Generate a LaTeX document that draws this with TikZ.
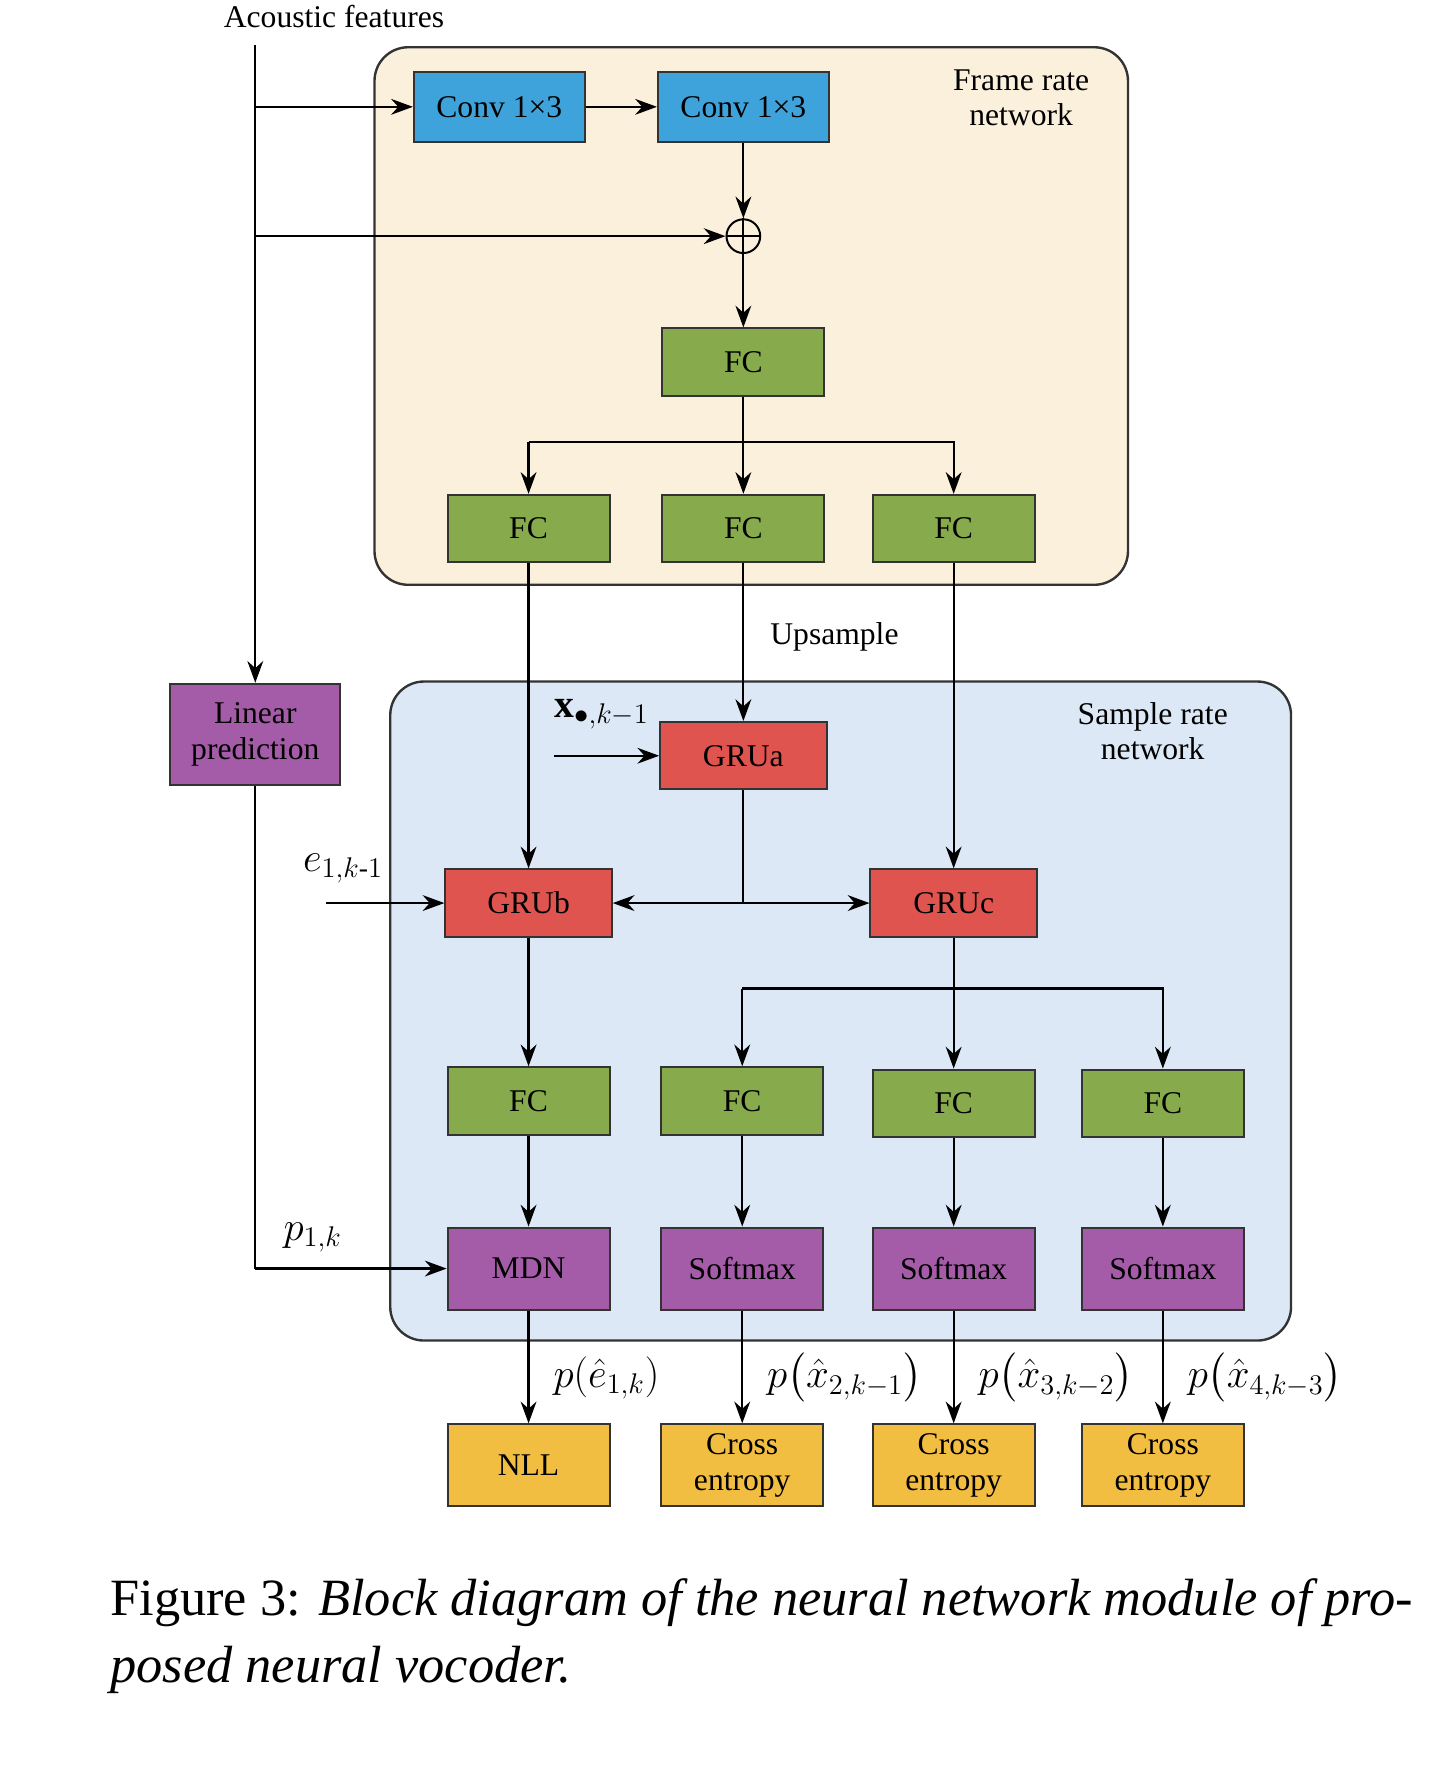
\documentclass[tikz,border=0pt]{standalone}
\usepackage{fontspec}
\setmainfont{Liberation Serif}
\usepackage{amsmath}
\usetikzlibrary{arrows.meta}
\definecolor{cblue}{HTML}{3FA3DB}
\definecolor{cgreen}{HTML}{86AA4C}
\definecolor{cred}{HTML}{E05450}
\definecolor{cpurple}{HTML}{A45CA8}
\definecolor{cyellow}{HTML}{F2BE42}
\definecolor{bgframe}{HTML}{FBF0DC}
\definecolor{bgsample}{HTML}{DCE8F5}
\begin{document}
\begin{tikzpicture}[x=0.02cm,y=-0.02cm,
  box/.style={draw=black!80,line width=1pt,minimum width=2.88cm,minimum height=1.2cm,inner sep=0pt,font=\fontsize{16}{18}\selectfont,align=center},
  conv/.style={box,fill=cblue,minimum width=3.04cm,minimum height=1.24cm},
  fc/.style={box,fill=cgreen},
  gru/.style={box,fill=cred,minimum width=2.96cm},
  pur/.style={box,fill=cpurple,minimum height=1.46cm},
  yel/.style={box,fill=cyellow,minimum height=1.46cm},
  bg/.style={draw=black!80,line width=1.2pt,rounded corners=0.6cm},
  arr/.style={-{Stealth[length=11pt,width=8pt]},line width=1.1pt},
  ln/.style={line width=1.1pt},
  lab/.style={font=\fontsize{16}{18}\selectfont},
  mlab/.style={font=\fontsize{20}{22}\selectfont}]
\useasboundingbox (0,0) rectangle (1280,1589);
\fill[white] (0,0) rectangle (1280,1589);
\draw[bg,fill=bgframe] (333,42) rectangle (1003,520);
\draw[bg,fill=bgsample] (347,606) rectangle (1148,1192);
\node[lab,align=center] (frt) at (908,87) {Frame rate\\network};
\node[lab,align=center] (srt) at (1025,650) {Sample rate\\network};
\node[lab] (ac) at (297,15) {Acoustic features};
\node[conv] (c1) at (444,95) {Conv 1×3};
\node[conv] (c2) at (661,95) {Conv 1×3};
\node[draw,circle,line width=1pt,minimum size=0.6cm,inner sep=0pt] (op) at (661,210) {};
\draw[line width=1pt] (op.north)--(op.south) (op.west)--(op.east);
\node[fc] (fc0) at (661,322) {FC};
\node[fc] (fa) at (470,470) {FC};
\node[fc] (fb) at (661,470) {FC};
\node[fc] (fcc) at (848,470) {FC};
\node[pur,minimum width=3.02cm,minimum height=1.8cm] (lp) at (227,653) {Linear\\prediction};
\node[gru] (ga) at (661,672) {GRUa};
\node[gru] (gb) at (470,803) {GRUb};
\node[gru] (gc) at (848,803) {GRUc};
\node[fc] (f1) at (470,979) {FC};
\node[fc] (f2) at (660,979) {FC};
\node[fc] (f3) at (848,981) {FC};
\node[fc] (f4) at (1034,981) {FC};
\node[pur] (m1) at (470,1128) {MDN};
\node[pur] (m2) at (660,1128) {Softmax};
\node[pur] (m3) at (848,1128) {Softmax};
\node[pur] (m4) at (1034,1128) {Softmax};
\node[yel] (y1) at (470,1303) {NLL};
\node[yel] (y2) at (660,1303) {Cross\\entropy};
\node[yel] (y3) at (848,1303) {Cross\\entropy};
\node[yel] (y4) at (1034,1303) {Cross\\entropy};
\coordinate (top) at (227,40);
\coordinate (j1) at (227,95);
\coordinate (j2) at (227,210);
\draw[arr] (top)--(lp.north);
\draw[arr] (j1)--(c1.west);
\draw[arr] (j2)--(op.west);
\draw[arr] (c1)--(c2);
\draw[arr] (c2)--(op);
\draw[arr] (op)--(fc0);
\coordinate (b1) at (470,393); \coordinate (b2) at (848,393);
\coordinate (bm) at (661,393);
\draw[ln] (fc0.south)--(bm);
\draw[arr] (bm)--(fb.north);
\draw[arr] (b1)--(b2)--(fcc.north);
\draw[arr] (b1)--(fa.north);
\draw[arr] (fa)--(gb);
\draw[arr] (fb)--(ga);
\draw[arr] (fcc)--(gc);
\node[lab] (up) at (742,566) {Upsample};
\coordinate (xs) at (493,672);
\draw[arr] (xs)--(ga.west);
\node[mlab] (xl) at (535,635) {$\mathbf{x}_{\bullet,k-1}$};
\coordinate (es) at (290,803);
\draw[arr] (es)--(gb.west);
\node[mlab] (el) at (305,772) {$e_{1,k\text{-}1}$};
\coordinate (gj) at (661,803);
\draw[ln] (ga.south)--(gj);
\draw[arr] (gj)--(gb.east);
\draw[arr] (gj)--(gc.west);
\draw[arr] (gb)--(f1);
\coordinate (c3) at (660,879); \coordinate (c4) at (1034,879); \coordinate (cm) at (848,879);
\draw[ln] (gc.south)--(cm);
\draw[arr] (cm)--(f3.north);
\draw[arr] (c3)--(c4)--(f4.north);
\draw[arr] (c3)--(f2.north);
\draw[arr] (f1)--(m1); \draw[arr] (f2)--(m2); \draw[arr] (f3)--(m3); \draw[arr] (f4)--(m4);
\coordinate (pc) at (227,1128);
\draw[ln] (lp.south)--(pc);
\draw[arr] (pc)--(m1.west);
\node[mlab] (pl) at (278,1100) {$p_{1,k}$};
\draw[arr] (m1)--(y1); \draw[arr] (m2)--(y2); \draw[arr] (m3)--(y3); \draw[arr] (m4)--(y4);
\node[mlab,anchor=west] (l1) at (486,1225) {$p(\hat{e}_{1,k})$};
\node[mlab,anchor=west] (l2) at (676,1225) {$p\big(\hat{x}_{2,k-1}\big)$};
\node[mlab,anchor=west] (l3) at (864,1225) {$p\big(\hat{x}_{3,k-2}\big)$};
\node[mlab,anchor=west] (l4) at (1050,1225) {$p\big(\hat{x}_{4,k-3}\big)$};
\node[anchor=west,font=\fontsize{26.5}{34}\selectfont,align=left] (cap) at (92,1455) {Figure 3: \textit{Block diagram of the neural network module of pro-}\\\textit{posed neural vocoder.}};
\end{tikzpicture}
\end{document}
